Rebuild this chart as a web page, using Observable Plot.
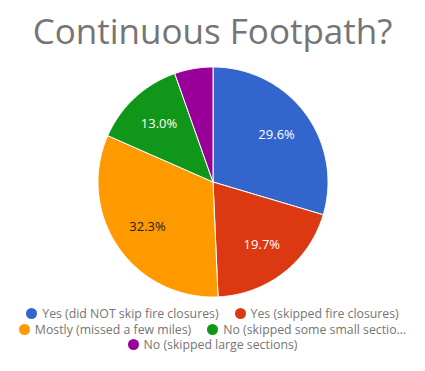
<!DOCTYPE html>
<html><head><meta charset="utf-8">
<script src="https://cdn.jsdelivr.net/npm/d3@7"></script>
<script src="https://cdn.jsdelivr.net/npm/@observablehq/plot@0.6"></script>
<style>
body{margin:0;background:#fff;width:425px;height:371px;overflow:hidden;font-family:"Open Sans",sans-serif;}
#title{height:60px;line-height:62px;text-align:center;font-size:35px;color:#757575;white-space:nowrap;}
#chart{height:246px;}
#legend{font-size:12.3px;color:#757575;}
.row{display:flex;justify-content:center;height:15.5px;align-items:center;white-space:nowrap;}
.item{display:flex;align-items:center;margin:0 8px;}
.sw{width:11px;height:11px;border-radius:50%;margin-right:5px;}
</style></head>
<body>
<div id="title">Continuous Footpath?</div>
<div id="chart"></div>
<div id="legend"></div>
<script>
const categories = ["Yes (did NOT skip fire closures)","Yes (skipped fire closures)","Mostly (missed a few miles)","No (skipped some small sectio\u2026","No (skipped large sections)"];
const values = [29.6, 19.7, 32.3, 13.0, 5.4];
const colors = ["#3366cc","#dc3912","#ff9900","#109618","#990099"];
const labelColors = ["#ffffff","#ffffff","#222222","#ffffff","#ffffff"];
const legendRows = [[0,1],[2,3],[4]];

const arcs = d3.pie().sort(null).value(d => d)(values);
const poly = [];
arcs.forEach((a, i) => {
  poly.push({cat: categories[i], x: 0, y: 0});
  const n = Math.max(2, Math.ceil((a.endAngle - a.startAngle) * 60));
  for (let k = 0; k <= n; k++) {
    const t = a.startAngle + (a.endAngle - a.startAngle) * k / n;
    poly.push({cat: categories[i], x: Math.sin(t), y: Math.cos(t)});
  }
  poly.push({cat: categories[i], x: 0, y: 0});
});
const labels = arcs.map((a, i) => {
  const m = (a.startAngle + a.endAngle) / 2;
  return {cat: categories[i], v: values[i], x: 0.69 * Math.sin(m), y: 0.69 * Math.cos(m), c: labelColors[i]};
}).filter(d => d.v >= 10);

const cx = 212.5, cy = 121.5, R = 115;
const plot = Plot.plot({
  width: 425, height: 246, margin: 0,
  x: {domain: [-1, 1], range: [cx - R, cx + R], axis: null},
  y: {domain: [-1, 1], range: [cy + R, cy - R], axis: null},
  color: {domain: categories, range: colors},
  marks: [
    Plot.line(poly, {x: "x", y: "y", z: "cat", fill: "cat", stroke: "#fff", strokeWidth: 1, curve: "linear"}),
    Plot.text(labels, {x: "x", y: "y", text: d => d.v.toFixed(1) + "%", fill: d => d.c, fontSize: 13, fontFamily: "Open Sans"})
  ]
});
document.getElementById("chart").appendChild(plot);

const leg = document.getElementById("legend");
legendRows.forEach(r => {
  const row = document.createElement("div"); row.className = "row";
  r.forEach(i => {
    const it = document.createElement("div"); it.className = "item";
    const sw = document.createElement("div"); sw.className = "sw"; sw.style.background = colors[i];
    const tx = document.createElement("span"); tx.textContent = categories[i];
    it.appendChild(sw); it.appendChild(tx); row.appendChild(it);
  });
  leg.appendChild(row);
});
</script>
</body></html>
